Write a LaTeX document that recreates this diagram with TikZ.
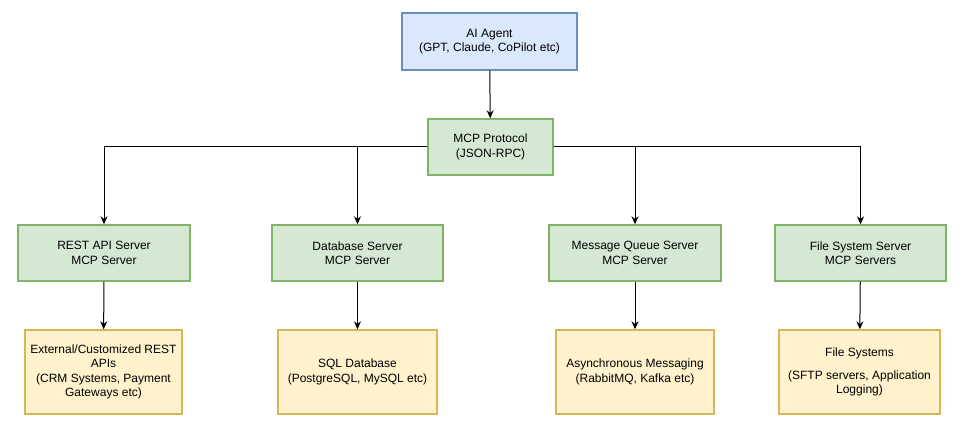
\documentclass[tikz,border=0pt]{standalone}
\usepackage{fontspec}
\setmainfont{Liberation Sans}
\usetikzlibrary{arrows.meta}
\definecolor{bfill}{HTML}{DAE8FC}\definecolor{bdraw}{HTML}{6C8EBF}
\definecolor{gfill}{HTML}{D5E8D4}\definecolor{gdraw}{HTML}{82B366}
\definecolor{yfill}{HTML}{FFF2CC}\definecolor{ydraw}{HTML}{D6B656}
\begin{document}
\begin{tikzpicture}[x=1pt,y=-1pt,
  box/.style={draw,line width=1.4pt,align=center,font=\fontsize{12}{14.5}\selectfont,inner sep=2pt},
  bluebox/.style={box,fill=bfill,draw=bdraw,minimum width=175pt,minimum height=57pt},
  greenbox/.style={box,fill=gfill,draw=gdraw,minimum height=56pt},
  yellowbox/.style={box,fill=yfill,draw=ydraw,minimum height=84pt},
  conn/.style={draw,line width=1pt,-{Stealth[length=8pt,width=7pt]}}]
\useasboundingbox (0,0) rectangle (975,441);
\node[bluebox] (agent) at (489.5,41.5) {AI Agent\\(GPT, Claude, CoPilot etc)};
\node[greenbox,minimum width=125pt] (mcp) at (490.5,147) {MCP Protocol\\(JSON-RPC)};
\node[greenbox,minimum width=172pt] (rest) at (104,253) {REST API Server\\MCP Server};
\node[greenbox,minimum width=171pt] (db) at (357.5,253) {Database Server\\MCP Server};
\node[greenbox,minimum width=172pt] (mq) at (635,253) {Message Queue Server\\MCP Server};
\node[greenbox,minimum width=171pt] (fs) at (860.5,253) {File System Server\\MCP Servers};
\node[yellowbox,minimum width=157pt] (api) at (103.5,372) {External/Customized REST\\APIs\\(CRM Systems, Payment\\Gateways etc)};
\node[yellowbox,minimum width=159pt] (sql) at (357.5,372) {SQL Database\\(PostgreSQL, MySQL etc)};
\node[yellowbox,minimum width=158pt] (msg) at (635,372) {Asynchronous Messaging\\(RabbitMQ, Kafka etc)};
\node[yellowbox,minimum width=161pt] (files) at (859.5,372) {File Systems\\[8pt](SFTP servers, Application\\Logging)};
\draw[conn] (agent) -- (mcp);
\draw[conn] (mcp.west) -| (rest.north);
\draw[conn] (mcp.west) -| (db.north);
\draw[conn] (mcp.east) -| (mq.north);
\draw[conn] (mcp.east) -| (fs.north);
\draw[conn] (rest) -- (api);
\draw[conn] (db) -- (sql);
\draw[conn] (mq) -- (msg);
\draw[conn] (fs) -- (files);
\end{tikzpicture}
\end{document}
